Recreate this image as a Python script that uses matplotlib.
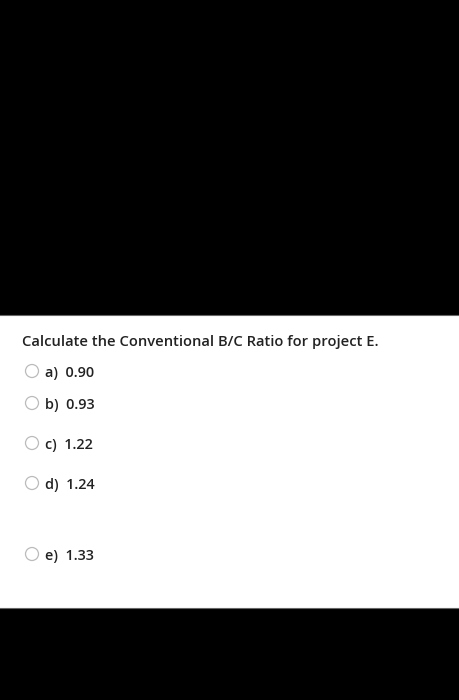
import matplotlib.pyplot as plt
from matplotlib.patches import Rectangle, Circle

QUESTION = "Calculate the Conventional B/C Ratio for project E."
LABELS = ["a)", "b)", "c)", "d)", "e)"]
CHOICES = ["0.90", "0.93", "1.22", "1.24", "1.33"]
ROW_Y = [373, 405, 445, 485, 556]

W, H = 459, 700
fig = plt.figure(figsize=(W / 100, H / 100), dpi=100)
ax = fig.add_axes([0, 0, 1, 1])
ax.set_xlim(0, W)
ax.set_ylim(H, 0)
ax.axis("off")
fig.patch.set_facecolor("black")

# white card between the two black bands
ax.add_patch(Rectangle((-2, 315), W + 4, 293, facecolor="white", edgecolor="#666666", lw=0.8))

font = ["Open Sans", "DejaVu Sans"]
ax.text(22, 342, QUESTION, fontsize=10.6, family=font, weight="semibold",
        color="#222222", va="center")

for lab, val, y in zip(LABELS, CHOICES, ROW_Y):
    ax.add_patch(Circle((32, y - 2), 6.5, facecolor="white", edgecolor="#bbbbbb", lw=0.9))
    ax.text(45, y, f"{lab}  {val}", fontsize=10.4, family=font, weight="semibold",
            color="#222222", va="center")

fig.savefig("out.png", dpi=100, facecolor="black")
